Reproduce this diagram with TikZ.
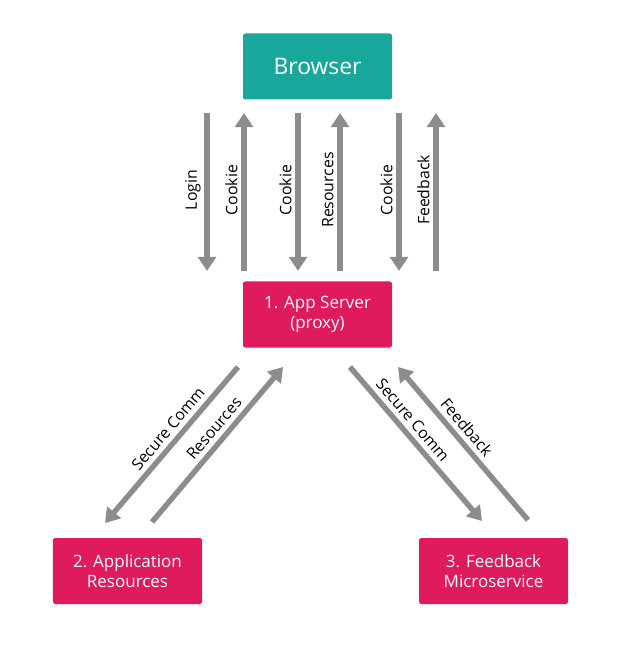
\documentclass[tikz,border=0pt]{standalone}
\usepackage{fontspec}
\setmainfont{Open Sans}
\usetikzlibrary{arrows.meta}
\definecolor{teal1}{HTML}{17A89B}
\definecolor{crim}{HTML}{DF1A5E}
\definecolor{arr}{HTML}{8C8C8C}
\tikzset{
  box/.style={rectangle, rounded corners=2pt, minimum width=4.47cm, minimum height=1.98cm,
    text=white, align=center, font=\fontsize{14.5}{17}\selectfont},
  flow/.style={draw=arr, line width=4.6pt, -{Triangle[width=15pt,length=12pt]}},
  lab/.style={font=\fontsize{13.5}{15}\selectfont, text=black, inner sep=1pt}
}
\begin{document}
\begin{tikzpicture}[x=0.03cm, y=-0.03cm]
\useasboundingbox (0,0) rectangle (630,654);

% Boxes
\node[box, fill=teal1, font=\fontsize{19.5}{22}\selectfont] (Browser) at (317.5,66.5) {Browser};
\node[box, fill=crim] (Server) at (317.5,314.5) {1. App Server\\(proxy)};
\node[box, fill=crim] (AppRes) at (127.5,571) {2. Application\\Resources};
\node[box, fill=crim] (Feedback) at (493.5,571) {3. Feedback\\Microservice};

% Browser <-> Server
\foreach \x/\d/\t in {207/1/Login, 244/0/Cookie, 298/1/Cookie, 340/0/Resources, 399/1/Cookie, 436/0/Feedback}
{
  \coordinate (Top-\x) at (\x,113);
  \coordinate (Bot-\x) at (\x,271);
  \ifnum\d=1
    \draw[flow] (Top-\x) -- (Bot-\x);
  \else
    \draw[flow] (Bot-\x) -- (Top-\x);
  \fi
  \node[lab, rotate=90, anchor=south] (Lab-\x) at (\x-5,190) {\t};
}

% Server <-> Resources
\coordinate (S1) at (238,367);
\coordinate (A1) at (105,523);
\coordinate (A2) at (152,522);
\coordinate (S2) at (283,367);
\draw[flow] (S1) -- (A1) node[lab, pos=0.45, sloped, above=3pt] {Secure Comm};
\draw[flow] (A2) -- (S2) node[lab, pos=0.55, sloped, above=3pt] {Resources};

% Server <-> Feedback
\coordinate (S3) at (350,367);
\coordinate (F1) at (482,521);
\coordinate (F2) at (528,520);
\coordinate (S4) at (398,367);
\draw[flow] (S3) -- (F1) node[lab, pos=0.4, sloped, above=3pt] {Secure Comm};
\draw[flow] (F2) -- (S4) node[lab, pos=0.55, sloped, above=3pt] {Feedback};
\end{tikzpicture}
\end{document}
